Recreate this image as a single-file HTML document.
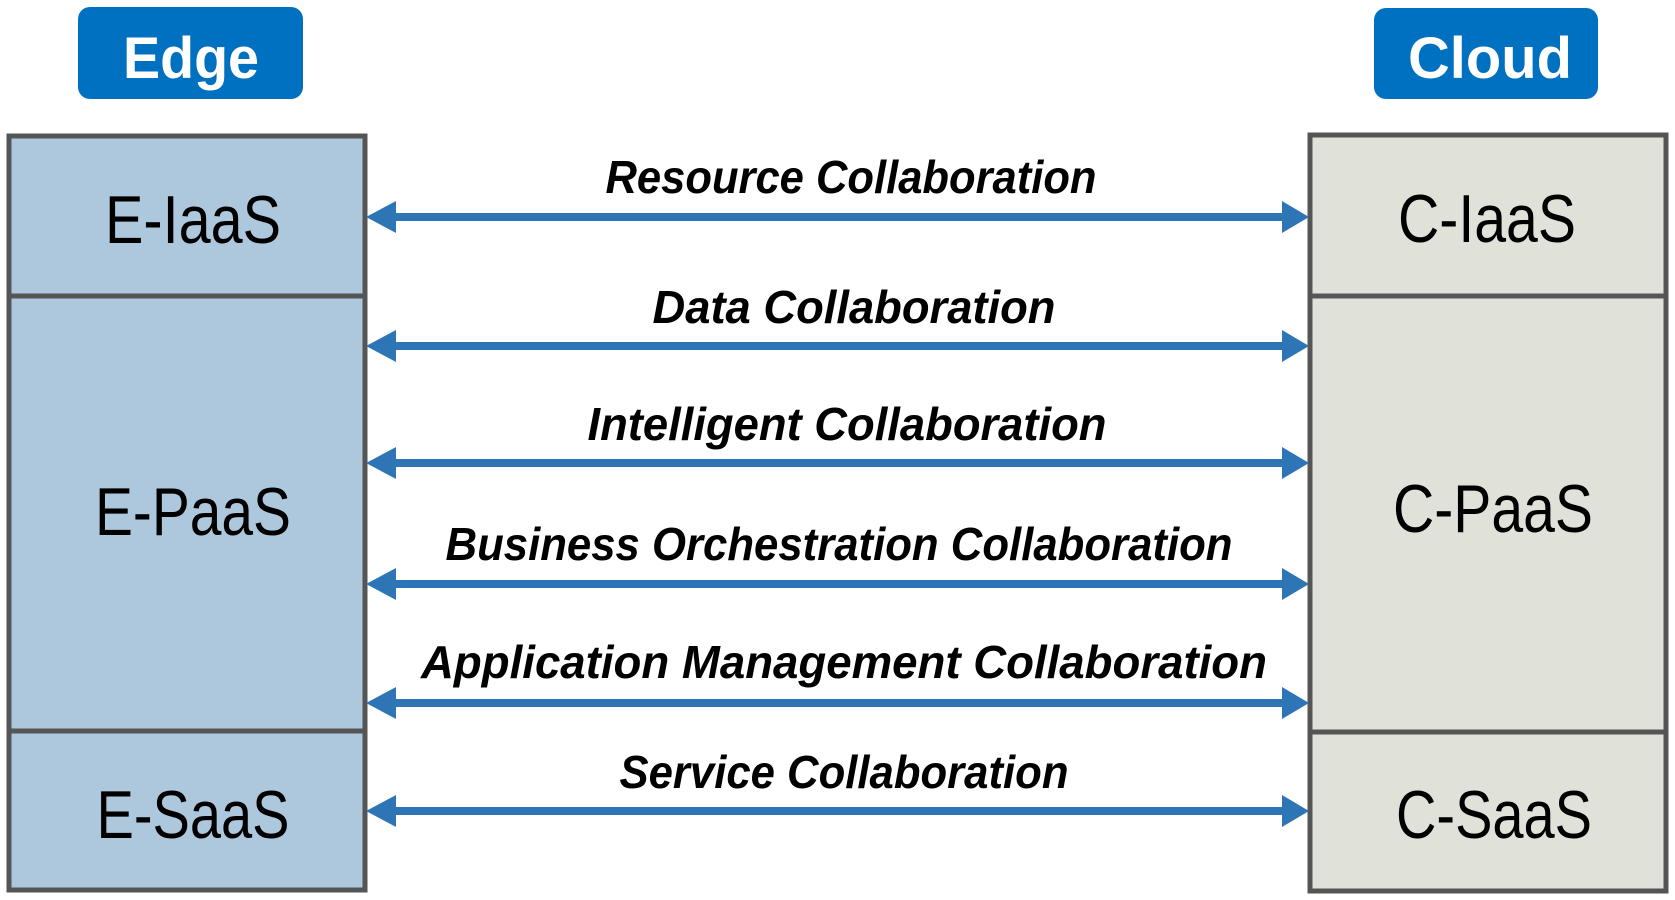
<!DOCTYPE html>
<html><head><meta charset="utf-8"><style>html,body{margin:0;padding:0;background:#fff}svg{display:block}</style></head>
<body>
<svg width="1675" height="900" viewBox="0 0 1675 900" xmlns="http://www.w3.org/2000/svg" font-family="'Liberation Sans', sans-serif">
<rect x="78" y="7" width="225" height="92" rx="12" fill="#0070c0"/>
<rect x="1374" y="8" width="224" height="91" rx="12" fill="#0070c0"/>
<text x="191" y="78" font-size="58" font-weight="bold" fill="#fff" text-anchor="middle" textLength="136" lengthAdjust="spacingAndGlyphs">Edge</text>
<text x="1490" y="78" font-size="58" font-weight="bold" fill="#fff" text-anchor="middle" textLength="164" lengthAdjust="spacingAndGlyphs">Cloud</text>

<g stroke="#555" stroke-width="5">
<rect x="9" y="136" width="356" height="754" fill="#adc7dd"/>
<line x1="9" y1="296" x2="365" y2="296"/>
<line x1="9" y1="731" x2="365" y2="731"/>
<rect x="1310" y="135" width="356" height="756" fill="#e0e2da"/>
<line x1="1310" y1="296" x2="1666" y2="296"/>
<line x1="1310" y1="732" x2="1666" y2="732"/>
</g>

<g font-size="68" fill="#000" text-anchor="middle">
<text x="193" y="243" textLength="176" lengthAdjust="spacingAndGlyphs">E-IaaS</text>
<text x="193" y="535" textLength="196" lengthAdjust="spacingAndGlyphs">E-PaaS</text>
<text x="193" y="838" textLength="193" lengthAdjust="spacingAndGlyphs">E-SaaS</text>
<text x="1487" y="242" textLength="178" lengthAdjust="spacingAndGlyphs">C-IaaS</text>
<text x="1493" y="532" textLength="200" lengthAdjust="spacingAndGlyphs">C-PaaS</text>
<text x="1494" y="838" textLength="196" lengthAdjust="spacingAndGlyphs">C-SaaS</text>
</g>

<g fill="#2e75b6" stroke="none">
<g transform="translate(0,217)"><rect x="385" y="-4" width="905" height="8"/><polygon points="366,0 396,-16 396,16"/><polygon points="1309,0 1282,-16 1282,16"/></g>
<g transform="translate(0,346)"><rect x="385" y="-4" width="905" height="8"/><polygon points="366,0 396,-16 396,16"/><polygon points="1309,0 1282,-16 1282,16"/></g>
<g transform="translate(0,463)"><rect x="385" y="-4" width="905" height="8"/><polygon points="366,0 396,-16 396,16"/><polygon points="1309,0 1282,-16 1282,16"/></g>
<g transform="translate(0,584)"><rect x="385" y="-4" width="905" height="8"/><polygon points="366,0 396,-16 396,16"/><polygon points="1309,0 1282,-16 1282,16"/></g>
<g transform="translate(0,703)"><rect x="385" y="-4" width="905" height="8"/><polygon points="366,0 396,-16 396,16"/><polygon points="1309,0 1282,-16 1282,16"/></g>
<g transform="translate(0,811)"><rect x="385" y="-4" width="905" height="8"/><polygon points="366,0 396,-16 396,16"/><polygon points="1309,0 1282,-16 1282,16"/></g>
</g>

<g font-size="46" font-weight="bold" font-style="italic" fill="#000" text-anchor="middle">
<text x="851" y="193" textLength="491" lengthAdjust="spacingAndGlyphs">Resource Collaboration</text>
<text x="854" y="323" textLength="403" lengthAdjust="spacingAndGlyphs">Data Collaboration</text>
<text x="847" y="440" textLength="519" lengthAdjust="spacingAndGlyphs">Intelligent Collaboration</text>
<text x="839" y="560" textLength="787" lengthAdjust="spacingAndGlyphs">Business Orchestration Collaboration</text>
<text x="844" y="678" textLength="846" lengthAdjust="spacingAndGlyphs">Application Management Collaboration</text>
<text x="844" y="788" textLength="449" lengthAdjust="spacingAndGlyphs">Service Collaboration</text>
</g>
</svg>
</body></html>
